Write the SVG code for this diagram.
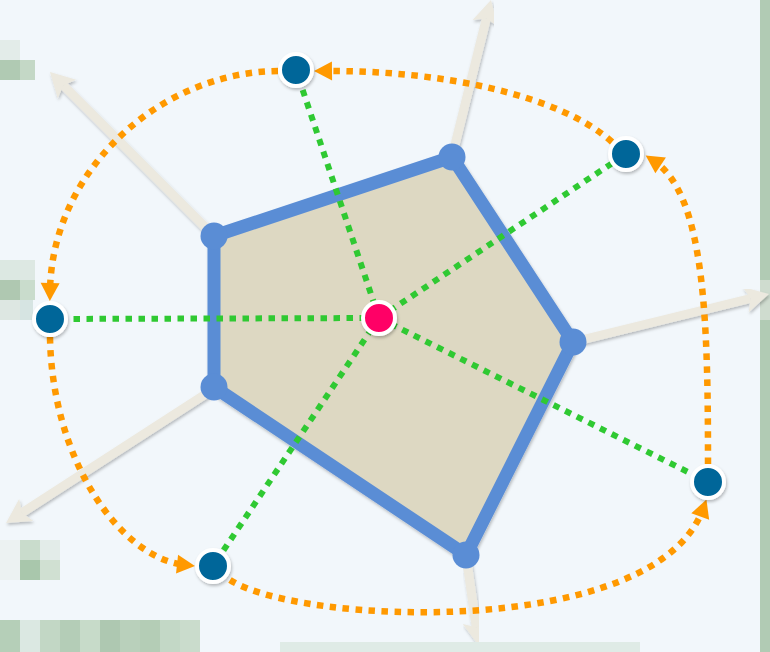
<svg xmlns="http://www.w3.org/2000/svg" width="770" height="652" viewBox="0 0 770 652">
<style>
.bg{fill:#f2f7fb}
.ray{fill:none;stroke:#ece9df;stroke-width:9;marker-end:url(#rayHead);filter:url(#sh)}
.green{fill:none;stroke:#2fc932;stroke-width:6;stroke-dasharray:6.5 6.5}
.orange{fill:none;stroke:#ff9900;stroke-width:6.5;stroke-dasharray:6.5 6.5;marker-end:url(#oHead)}
.outer{fill:#006699;stroke:#ffffff;stroke-width:4;filter:url(#sh)}
.center{fill:#ff0066;stroke:#ffffff;stroke-width:4;filter:url(#sh)}
.vtx{fill:#5a8dd5}
.edge{fill:#ddd8c2;stroke:#5a8dd5;stroke-width:13;stroke-linejoin:round;filter:url(#sh)}
</style>
<defs>
<filter id="sh" x="-20%" y="-20%" width="140%" height="140%">
<feDropShadow dx="1" dy="2" stdDeviation="1.5" flood-color="#000" flood-opacity="0.25"/>
</filter>
<marker id="rayHead" markerUnits="userSpaceOnUse" markerWidth="40" markerHeight="40" refX="0" refY="0" viewBox="-10 -20 40 40" orient="auto" overflow="visible">
<path d="M19,0 L-5,-13 L0,0 L-5,13 Z" fill="#ece9df"/>
</marker>
<marker id="oHead" markerUnits="userSpaceOnUse" markerWidth="40" markerHeight="40" refX="0" refY="0" viewBox="-20 -20 40 40" orient="auto" overflow="visible">
<path d="M10,0 L-8,-9.5 L-8,9.5 Z" fill="#ff9900"/>
</marker>
</defs>
<rect class="bg" x="0" y="0" width="770" height="652"/>
<g id="mosaic">
<rect x="0" y="40" width="20" height="20" fill="#e3ece9"/>
<rect x="0" y="60" width="20" height="20" fill="#b0cab3"/>
<rect x="20" y="60" width="15" height="20" fill="#c4d8c6"/>
<rect x="0" y="260" width="20" height="20" fill="#dce8e2"/>
<rect x="20" y="260" width="15" height="20" fill="#dde8e3"/>
<rect x="0" y="280" width="20" height="20" fill="#afc8b1"/>
<rect x="20" y="280" width="15" height="20" fill="#c9dccc"/>
<rect x="0" y="300" width="20" height="20" fill="#dde7e2"/>
<rect x="20" y="300" width="13" height="20" fill="#d6e4e2"/>
<rect x="0" y="540" width="20" height="40" fill="#ecf2f2"/>
<rect x="20" y="540" width="20" height="20" fill="#c9dccc"/>
<rect x="40" y="540" width="20" height="20" fill="#e3ece9"/>
<rect x="20" y="560" width="20" height="20" fill="#a9c7ac"/>
<rect x="40" y="560" width="20" height="20" fill="#d0e0d2"/>
<rect x="0" y="620" width="20" height="32" fill="#b5cfb8"/>
<rect x="20" y="620" width="20" height="32" fill="#dbe8e2"/>
<rect x="40" y="620" width="20" height="32" fill="#c2d7c5"/>
<rect x="60" y="620" width="20" height="32" fill="#b4cdb7"/>
<rect x="80" y="620" width="20" height="32" fill="#c7dbc9"/>
<rect x="100" y="620" width="20" height="32" fill="#aec8b1"/>
<rect x="120" y="620" width="20" height="32" fill="#b9d0bb"/>
<rect x="140" y="620" width="20" height="32" fill="#b4cdb6"/>
<rect x="160" y="620" width="20" height="32" fill="#c3d8c6"/>
<rect x="180" y="620" width="20" height="32" fill="#cadccc"/>
<rect x="280" y="642" width="360" height="10" fill="#dfebe6"/>
<rect x="760" y="0" width="10" height="652" fill="#b1cbb4"/>
<rect x="760" y="280" width="10" height="40" fill="#cfdccf"/>
</g>
<g id="rays">
<path class="ray" d="M215,237 L63.4,85.4"/>
<path class="ray" d="M452,157 L486.4,18.4"/>
<path class="ray" d="M573,342 L750.5,298.5"/>
<path class="ray" d="M466,555 L476.3,627.2"/>
<path class="ray" d="M215,388 L22,512.7"/>
</g>
<g id="polygon">
<polygon class="edge" points="214,236 452,157 573,342 466,555 214,387"/>
<circle class="vtx" cx="214" cy="236" r="13.5"/>
<circle class="vtx" cx="452" cy="157" r="13.5"/>
<circle class="vtx" cx="573" cy="342" r="13.5"/>
<circle class="vtx" cx="466" cy="555" r="13.5"/>
<circle class="vtx" cx="214" cy="387" r="13.5"/>
</g>
<g id="connectors">
<path class="green" d="M379,318 L296,70"/>
<path class="green" d="M379,318 L626,154"/>
<path class="green" d="M379,318 L50,319"/>
<path class="green" d="M379,318 L708,482"/>
<path class="green" d="M379,318 L213,566"/>
<path class="orange" d="M278,71 C160,72 52,170 50,291"/>
<path class="orange" d="M50,337 C52,460 120,558 185,565"/>
<path class="orange" d="M230,580 C300,625 655,640 703,509"/>
<path class="orange" d="M708,464 C708,320 705,195 654,161"/>
<path class="orange" d="M612,142 C560,95 440,70 324,71"/>
</g>
<g id="node-top"><circle class="outer" cx="296" cy="70" r="16"/></g>
<g id="node-right-top"><circle class="outer" cx="626" cy="154" r="16"/></g>
<g id="node-left"><circle class="outer" cx="50" cy="319" r="16"/></g>
<g id="node-right-bottom"><circle class="outer" cx="708" cy="482" r="16"/></g>
<g id="node-bottom-left"><circle class="outer" cx="213" cy="566" r="16"/></g>
<g id="node-center"><circle class="center" cx="379" cy="318" r="16"/></g>
</svg>
